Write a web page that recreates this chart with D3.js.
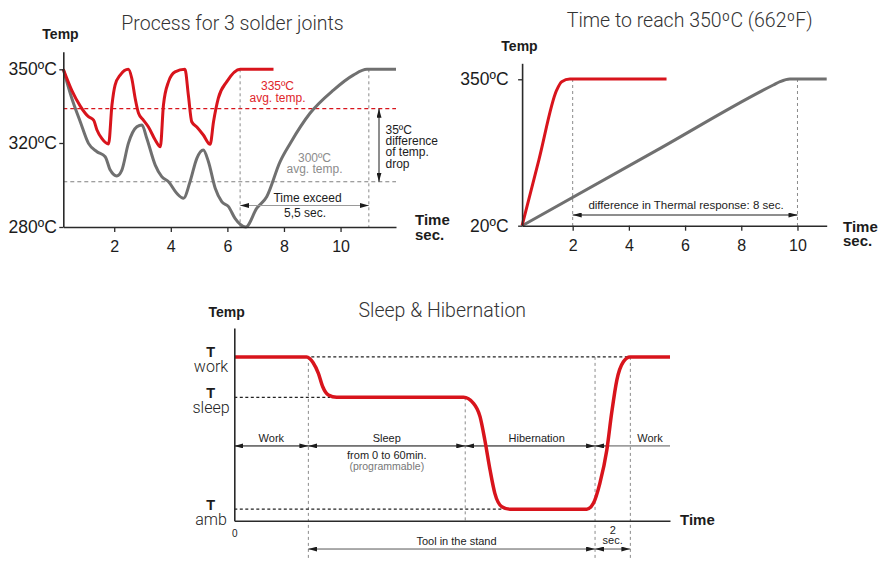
<!DOCTYPE html>
<html><head><meta charset="utf-8">
<script src="https://cdn.jsdelivr.net/npm/d3@7"></script>
<style>body{margin:0;background:#fff}svg{display:block}</style>
</head><body>
<script>
// ---------- DATA ----------
// Panel 1: Process for 3 solder joints
const solderTicks = [2, 4, 6, 8, 10];
const solderTempTicks = [280, 320, 350];
const solderRedTime = [0.2,0.5,0.8,1.09,1.27,1.39,1.56,1.8,1.92,2.03,2.21,2.5,2.62,2.74,2.86,3.03,3.21,3.45,3.63,3.74,3.92,4.15,4.5,4.62,4.74,4.92,5.15,5.39,5.51,5.68,5.98,6.45,7.63];
const solderRedTemp = [350,342,336,331.5,330,325.7,322,319.5,336.4,344,347.8,350,346.6,339,333,330,327,321.3,318,336.4,345.3,349,350,340.2,329.3,327,323.5,319.3,329.3,339,345.3,350,350];
const solderGreyTime = [0.2,0.5,0.8,1.09,1.39,1.68,1.86,2.09,2.27,2.5,2.8,2.98,3.15,3.45,3.68,3.92,4.21,4.45,4.68,4.92,5.15,5.33,5.57,5.8,6.04,6.27,6.65,7.04,7.39,7.86,8.22,8.92,9.75,10.45,10.93,11.96];
const solderGreyTemp = [350,339,329.3,319.8,315.5,312.9,306,303,306,319.8,327.1,327.9,322.1,308.6,302.6,300,294.9,292.7,300,312.1,316.4,310.3,297.1,291.2,289,283.8,280,288.3,293.4,310.3,319.8,333,342.1,347.8,350,350];
const solderAvgRed = 335, solderAvgGrey = 300;
const solderExceed = [6.45, 11.0];

// Panel 2: Time to reach 350ºC
const heatTicks = [2, 4, 6, 8, 10];
const heatTempTicks = [20, 350];
const fastTime = [0.2, 0.8, 1.43, 1.61, 1.9, 5.34];
const fastTemp = [20, 168.8, 325, 344, 350, 350];
const slowTime = [0.2, 5, 9.14, 9.38, 9.73, 11.04];
const slowTemp = [20, 189.9, 336.5, 344, 350, 350];
const heatMarks = [2, 10];

// Panel 3: Sleep & Hibernation
const levelNames = ["work", "sleep", "amb"];
const levelValues = [85, 64, 6];
const sleepX = [0,16.6,18.1,19.3,20.3,21.6,23.5,52.6,54.9,56.4,57.5,58.7,59.8,61.4,63.3,80.9,82.4,83.9,85.5,86.6,87.8,89.3,90.8,100];
const sleepY = [85,85,82,76.5,69.5,65.2,64,64,60.9,54,41.9,26.3,14.2,7.3,6,6,9,19.4,36.7,55.7,73,82.5,85,85];
const phaseEdges = [0, 17, 53, 82.8, 90.9, 100];
const phaseNames = ["Work", "Sleep", "Hibernation", "Work"];
const phaseLabelX = [8.5, 35, 69.4, 95.4];

// ---------- DRAW ----------
const RED = "#d8141c", GREY = "#707070", INK = "#1c1c1c";
const SANS = "'Liberation Sans', Arial, Helvetica, sans-serif";
const LIGHT = "Roboto, 'Liberation Sans', sans-serif";

const svg = d3.select("body").append("svg").attr("width", 889).attr("height", 564);
const defs = svg.append("defs");
defs.append("marker").attr("id", "ah").attr("viewBox", "0 0 10 10")
  .attr("refX", 10).attr("refY", 5).attr("markerWidth", 9).attr("markerHeight", 5)
  .attr("preserveAspectRatio", "none").attr("markerUnits", "userSpaceOnUse")
  .attr("orient", "auto-start-reverse")
  .append("path").attr("d", "M0,0L10,5L0,10Z").attr("fill", INK);

function txt(g, x, y, s, o = {}) {
  return g.append("text").attr("x", x).attr("y", y).text(s)
    .attr("font-family", o.family || SANS).attr("font-size", o.size || 12)
    .attr("font-weight", o.weight || 400).attr("fill", o.fill || INK)
    .attr("text-anchor", o.anchor || "start");
}
function seg(g, xa, ya, xb, yb, o = {}) {
  const l = g.append("line").attr("x1", xa).attr("y1", ya).attr("x2", xb).attr("y2", yb)
    .attr("stroke", o.stroke || INK).attr("stroke-width", o.width || 1);
  if (o.dash) l.attr("stroke-dasharray", o.dash);
  if (o.start) l.attr("marker-start", "url(#ah)");
  if (o.end) l.attr("marker-end", "url(#ah)");
  return l;
}
function curve(g, xs, ys, X, Y, color, w) {
  const pts = xs.map((d, i) => [d, ys[i]]);
  g.append("path").datum(pts).attr("fill", "none").attr("stroke", color)
    .attr("stroke-width", w).attr("stroke-linejoin", "round").attr("stroke-linecap", "butt")
    .attr("d", d3.line().x(d => X(d[0])).y(d => Y(d[1])).curve(d3.curveMonotoneX));
}
function styleAxis(a, fs) {
  a.selectAll("path.domain").attr("stroke", "#2a2a2a").attr("stroke-width", 1.6);
  a.selectAll(".tick line").attr("stroke", "#2a2a2a").attr("stroke-width", 1.3);
  a.selectAll(".tick text").attr("font-family", SANS).attr("font-size", fs).attr("fill", INK);
}

// ===== Panel 1 =====
const p1 = svg.append("g");
const x1 = d3.scaleLinear().domain([0.2, 11.96]).range([63.3, 396]);
const y1 = d3.scaleLinear().domain([280, 300, 320, 335, 350, 357]).range([227, 181.7, 143, 108.7, 69.3, 51.7]);

seg(p1, x1(0.2), y1(solderAvgRed), x1(11.96), y1(solderAvgRed), {stroke: RED, width: 1.2, dash: "4,3"});
seg(p1, x1(0.2), y1(solderAvgGrey), x1(11.96), y1(solderAvgGrey), {stroke: "#808080", width: 1.1, dash: "4,3"});
solderExceed.forEach(t => seg(p1, x1(t), y1(350), x1(t), y1(280), {stroke: "#8a8a8a", width: 1, dash: "3,3"}));

curve(p1, solderGreyTime, solderGreyTemp, x1, y1, GREY, 3);
curve(p1, solderRedTime, solderRedTemp, x1, y1, RED, 3);

const ax1 = p1.append("g").attr("transform", `translate(0,${y1(280)})`)
  .call(d3.axisBottom(x1).tickValues(solderTicks).tickSize(5).tickSizeOuter(0).tickPadding(9));
styleAxis(ax1, 16);
const ay1 = p1.append("g").attr("transform", `translate(${x1(0.2)},0)`)
  .call(d3.axisLeft(y1).tickValues(solderTempTicks).tickSize(4).tickSizeOuter(0).tickPadding(2.5).tickFormat(d => d + "ºC"));
styleAxis(ay1, 17.5);

txt(p1, 232.5, 30, "Process for 3 solder joints", {family: LIGHT, size: 19.5, weight: 300, anchor: "middle", fill: "#333"});
txt(p1, 60.5, 38.5, "Temp", {size: 14, weight: 700, anchor: "middle"});
txt(p1, 415, 225, "Time", {size: 15, weight: 700});
txt(p1, 415, 239.5, "sec.", {size: 15, weight: 700});

txt(p1, 277.5, 90, solderAvgRed + "ºC", {size: 12, anchor: "middle", fill: "#e0262b"});
txt(p1, 277.5, 101.5, "avg. temp.", {size: 12, anchor: "middle", fill: "#e0262b"});
txt(p1, 314.5, 161.5, solderAvgGrey + "ºC", {size: 12, anchor: "middle", fill: "#8c8c8c"});
txt(p1, 314.5, 173, "avg. temp.", {size: 12, anchor: "middle", fill: "#8c8c8c"});

seg(p1, 379, y1(solderAvgRed), 379, y1(solderAvgGrey), {width: 1, start: true, end: true});
["35ºC", "difference", "of temp.", "drop"].forEach((s, i) => txt(p1, 385.5, 134 + i * 11.2, s, {size: 12}));

seg(p1, x1(solderExceed[0]), 205.5, x1(solderExceed[1]), 205.5, {stroke: "#9a9a9a", width: 1.2, start: true, end: true});
txt(p1, 307.5, 201.5, "Time exceed", {size: 12, anchor: "middle"});
txt(p1, 305, 216.5, "5,5 sec.", {size: 12, anchor: "middle"});

// ===== Panel 2 =====
const p2 = svg.append("g");
const x2 = d3.scaleLinear().domain([0.2, 11.04]).range([522.1, 826.7]);
const y2 = d3.scaleLinear().domain([20, 350]).range([225.7, 79]);

heatMarks.forEach(t => seg(p2, x2(t), y2(350), x2(t), y2(20), {stroke: "#8a8a8a", width: 1, dash: "3,3"}));
curve(p2, slowTime, slowTemp, x2, y2, GREY, 3);
curve(p2, fastTime, fastTemp, x2, y2, RED, 3);

const ax2 = p2.append("g").attr("transform", `translate(0,${y2(20)})`)
  .call(d3.axisBottom(x2).tickValues(heatTicks).tickSize(5).tickSizeOuter(0).tickPadding(9));
styleAxis(ax2, 16);
const y2axis = d3.scaleLinear().domain([20, 386]).range([225.7, 63.3]);
const ay2 = p2.append("g").attr("transform", `translate(${x2(0.2)},0)`)
  .call(d3.axisLeft(y2axis).tickValues(heatTempTicks).tickSize(4).tickSizeOuter(0).tickPadding(9.5).tickFormat(d => d + "ºC"));
styleAxis(ay2, 17.5);

txt(p2, 689.7, 26.5, "Time to reach 350ºC (662ºF)", {family: LIGHT, size: 19.5, weight: 300, anchor: "middle", fill: "#333"});
txt(p2, 519.5, 50.5, "Temp", {size: 14, weight: 700, anchor: "middle"});
txt(p2, 843, 231.5, "Time", {size: 15, weight: 700});
txt(p2, 843, 245.5, "sec.", {size: 15, weight: 700});

seg(p2, x2(heatMarks[0]), 215, x2(heatMarks[1]), 215, {width: 1, start: true, end: true});
txt(p2, 686, 208.5, "difference in Thermal response: " + (heatMarks[1] - heatMarks[0]) + " sec.", {size: 11.5, anchor: "middle"});

// ===== Panel 3 =====
const p3 = svg.append("g");
const x3 = d3.scaleLinear().domain([0, 100]).range([234.3, 670]);
const y3 = d3.scaleLinear().domain([0, 100]).range([520.7, 328]);
const L = Object.fromEntries(levelNames.map((n, i) => [n, levelValues[i]]));

// vertical guides
seg(p3, x3(phaseEdges[1]), y3(L.work), x3(phaseEdges[1]), y3(-19.5), {stroke: "#8a8a8a", dash: "3,3"});
seg(p3, x3(phaseEdges[2]), y3(L.sleep), x3(phaseEdges[2]), y3(0), {stroke: "#8a8a8a", dash: "3,3"});
seg(p3, x3(phaseEdges[3]), y3(L.work), x3(phaseEdges[3]), y3(-19.5), {stroke: "#8a8a8a", dash: "3,3"});
seg(p3, x3(phaseEdges[4]), y3(L.work), x3(phaseEdges[4]), y3(-19.5), {stroke: "#8a8a8a", dash: "3,3"});
// horizontal level guides
seg(p3, x3(0), y3(L.work), x3(phaseEdges[4]), y3(L.work), {stroke: "#222", width: 1.1, dash: "3,2.5"});
seg(p3, x3(0), y3(L.sleep), x3(22), y3(L.sleep), {stroke: "#222", width: 1.1, dash: "3,2.5"});
seg(p3, x3(0), y3(L.amb), x3(62), y3(L.amb), {stroke: "#222", width: 1.1, dash: "3,2.5"});

// phase arrow row
const rowV = 38.8;
seg(p3, x3(0), y3(rowV), x3(100), y3(rowV), {stroke: "#555", width: 1});
for (let i = 0; i < 4; i++) {
  const last = i === 3;
  seg(p3, x3(phaseEdges[i]), y3(rowV), x3(last ? phaseEdges[i] + 3 : phaseEdges[i + 1]), y3(rowV),
      {stroke: "#555", width: 1, start: true, end: !last});
  txt(p3, x3(phaseLabelX[i]), 441.7, phaseNames[i], {size: 11, anchor: "middle", fill: "#222"});
}
txt(p3, x3(phaseLabelX[1]), 459, "from 0 to 60min.", {size: 11, anchor: "middle", fill: "#222"});
txt(p3, x3(phaseLabelX[1]), 469.5, "(programmable)", {size: 10.5, anchor: "middle", fill: "#777"});

// bottom arrows
const botV = -14.7;
seg(p3, x3(phaseEdges[1]), y3(botV), x3(phaseEdges[3]), y3(botV), {stroke: "#555", start: true, end: true});
seg(p3, x3(phaseEdges[3]), y3(botV), x3(phaseEdges[4]), y3(botV), {stroke: "#555", start: true, end: true});
txt(p3, x3(51), 545, "Tool in the stand", {size: 11, anchor: "middle", fill: "#222"});
txt(p3, x3((phaseEdges[3] + phaseEdges[4]) / 2), 533.5, "2", {size: 11, anchor: "middle", fill: "#222"});
txt(p3, x3((phaseEdges[3] + phaseEdges[4]) / 2), 544, "sec.", {size: 11, anchor: "middle", fill: "#222"});

// curve
curve(p3, sleepX, sleepY, x3, y3, RED, 3.5);

// axes
const ax3 = p3.append("g").attr("transform", `translate(0,${y3(0)})`)
  .call(d3.axisBottom(x3).tickValues([0]).tickSize(0).tickSizeOuter(0).tickPadding(9));
styleAxis(ax3, 10);
const ay3 = p3.append("g").attr("transform", `translate(${x3(0)},0)`)
  .call(d3.axisLeft(y3).tickValues([]).tickSizeOuter(0));
styleAxis(ay3, 10);

// level labels
levelNames.forEach((n, i) => {
  const yy = y3(levelValues[i]);
  txt(p3, 210.7, yy + 0.5, "T", {size: 14.5, weight: 700, anchor: "middle"});
  txt(p3, 211, yy + 15.5, n, {family: LIGHT, size: 16, weight: 300, anchor: "middle", fill: "#222"});
});

txt(p3, 442.3, 316.5, "Sleep & Hibernation", {family: LIGHT, size: 19.5, weight: 300, anchor: "middle", fill: "#333"});
txt(p3, 226.7, 316.5, "Temp", {size: 14, weight: 700, anchor: "middle"});
txt(p3, 680, 525, "Time", {size: 15, weight: 700});
</script>
</body></html>
